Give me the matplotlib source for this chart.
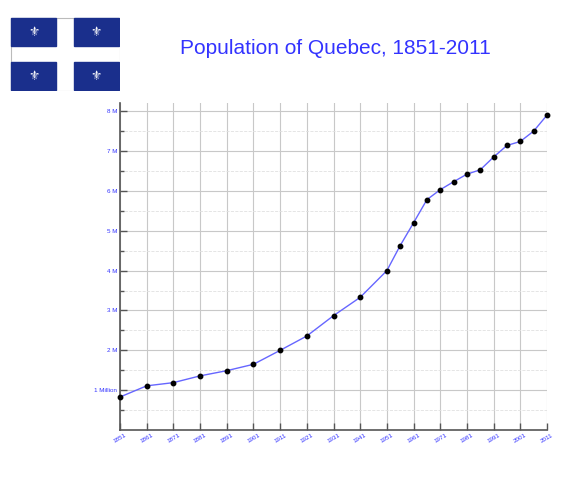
import matplotlib.pyplot as plt
from matplotlib.patches import Rectangle

plt.rcParams['font.family'] = ['Liberation Sans', 'DejaVu Sans']

years = [1851, 1861, 1871, 1881, 1891, 1901, 1911, 1921, 1931, 1941, 1951, 1956,
         1961, 1966, 1971, 1976, 1981, 1986, 1991, 1996, 2001, 2006, 2011]
population_m = [0.83, 1.11, 1.19, 1.36, 1.49, 1.65, 2.00, 2.36, 2.87, 3.33, 4.00, 4.63,
                5.20, 5.78, 6.03, 6.23, 6.42, 6.53, 6.85, 7.14, 7.24, 7.50, 7.90]
tick_years = list(range(1851, 2012, 10))
y_ticks = [1, 2, 3, 4, 5, 6, 7, 8]
y_labels = ["1 Million", "2 M", "3 M", "4 M", "5 M", "6 M", "7 M", "8 M"]

blue = "#3333ff"
fig = plt.figure(figsize=(5.74, 4.8), dpi=100)

# drapeau du Québec
fax = fig.add_axes([10 / 574, 1 - 91 / 480, 110 / 574, 74 / 480])
fax.set_xlim(0, 110)
fax.set_ylim(0, 74)
fax.axis("off")
fax.add_patch(Rectangle((0.5, 0.5), 109, 73, fc="white", ec="#bbbbbb", lw=0.8))
for x0, y0 in [(1, 1), (64, 1), (1, 45), (64, 45)]:
    fax.add_patch(Rectangle((x0, y0), 45, 28, color="#1a2f8c"))
    fax.text(x0 + 22.5, y0 + 14, "\u269c", color="white", ha="center", va="center",
             fontsize=9, family="DejaVu Sans")

fig.text(0.584, 1 - 49 / 480, "Population of Quebec, 1851-2011", color=blue,
         fontsize=15, ha="center", va="center")

ax = fig.add_axes([120 / 574, 0.104, 427 / 574, 0.681])
ax.plot(years, population_m, color="#6666ff", lw=1, marker="o", ms=3.2,
        mfc="black", mec="black", clip_on=False, zorder=3)
ax.set_xlim(1851, 2011)
ax.set_ylim(0, 8.2)
ax.set_xticks(tick_years)
ax.set_xticklabels([str(y) for y in tick_years], rotation=30, fontsize=4.5, color=blue)
ax.set_yticks(y_ticks)
ax.set_yticklabels(y_labels, fontsize=4.5, color=blue)
ax.set_yticks([0.5 + i for i in range(8)], minor=True)
ax.grid(True, which="major", color="#c8c8c8", lw=0.8)
ax.grid(True, which="minor", axis="y", color="#e0e0e0", lw=0.6, ls="--")
ax.tick_params(which="both", direction="in", color="#555555", length=5, width=1, pad=2)
ax.tick_params(which="minor", length=3)
for side in ["top", "right"]:
    ax.spines[side].set_visible(False)
for side in ["left", "bottom"]:
    ax.spines[side].set_color("#555555")
    ax.spines[side].set_linewidth(1.2)

fig.savefig("out.png", dpi=100)
